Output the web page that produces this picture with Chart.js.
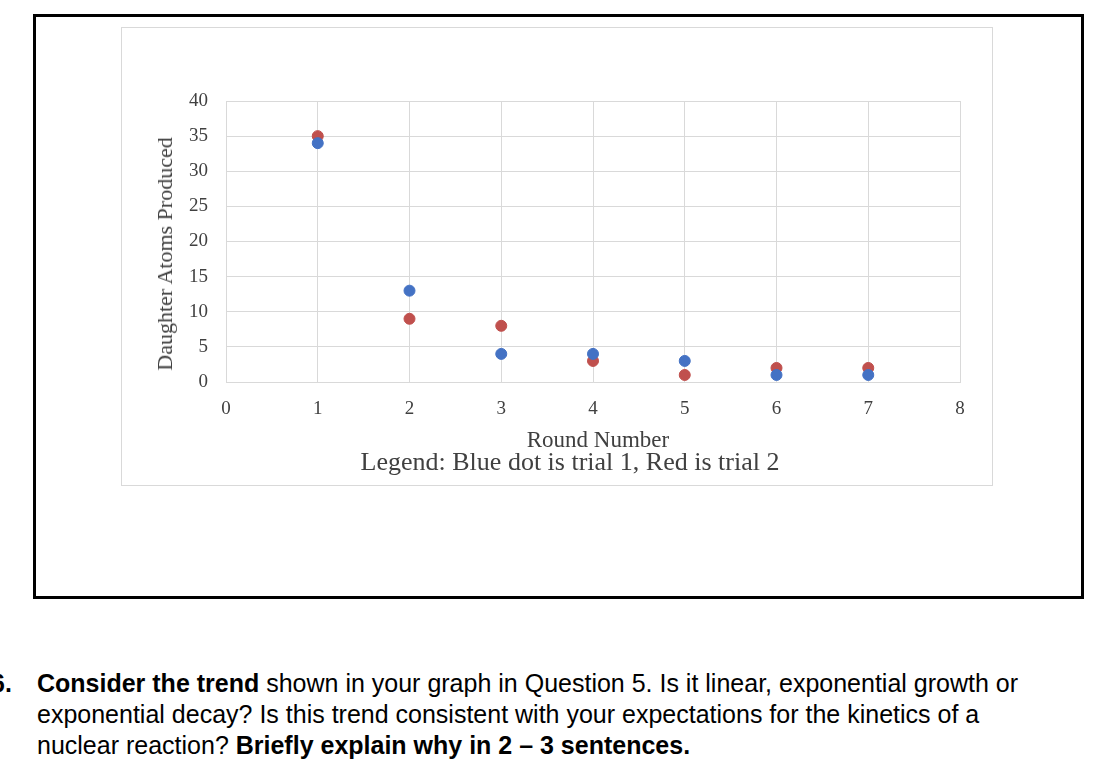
<!DOCTYPE html>
<html>
<head>
<meta charset="utf-8">
<script src="https://cdn.jsdelivr.net/npm/chart.js@4.4.0/dist/chart.umd.min.js"></script>
<style>
  body { margin: 0; width: 1096px; height: 762px; background: #fff; position: relative; overflow: hidden; }
  #frame { position: absolute; left: 33px; top: 14px; width: 1045px; height: 579px; border: 3px solid #000; }
  #chartBox { position: absolute; left: 121px; top: 27px; width: 870px; height: 457px; border: 1px solid #d9d9d9; }
  canvas { position: absolute; left: 0; top: 0; }
  .serif { font-family: "Liberation Serif", "DejaVu Serif", serif; color: #404040; position: absolute; white-space: nowrap; line-height: 1; }
  #ytitle { left: 43px; top: 226px; font-size: 22px; transform: translate(-50%, -50%) rotate(-90deg); }
  #xtitle { left: 476px; top: 400px; font-size: 23px; transform: translateX(-50%); }
  #legend { left: 448px; top: 421px; font-size: 26px; transform: translateX(-50%); }
  #question { position: absolute; left: 0; top: 668px; font-family: "Liberation Sans", Arial, sans-serif; font-size: 25px; line-height: 31px; color: #000; }
  #question .num { position: absolute; left: -9px; }
  #question .txt { position: absolute; left: 37px; width: 1070px; white-space: nowrap; }
</style>
</head>
<body>
<div id="frame"></div>
<div id="chartBox">
  <canvas id="c" width="870" height="457"></canvas>
  <div class="serif" id="ytitle">Daughter Atoms Produced</div>
  <div class="serif" id="xtitle">Round Number</div>
  <div class="serif" id="legend">Legend: Blue dot is trial 1, Red is trial 2</div>
</div>
<div id="question">
  <span class="num"><b>6.</b></span>
  <div class="txt"><b>Consider the trend</b> shown in your graph in Question 5. Is it linear, exponential growth or<br>exponential decay? Is this trend consistent with your expectations for the kinetics of a<br>nuclear reaction? <b>Briefly explain why in 2 – 3 sentences.</b></div>
</div>
<script>
const rounds = [1, 2, 3, 4, 5, 6, 7];
const trial1 = [34, 13, 4, 4, 3, 1, 1];
const trial2 = [35, 9, 8, 3, 1, 2, 2];

const tickFont = { family: '"Liberation Serif", serif', size: 19 };

new Chart(document.getElementById('c'), {
  type: 'scatter',
  data: {
    datasets: [
      { label: 'Trial 1', data: rounds.map((r, i) => ({ x: r, y: trial1[i] })), backgroundColor: '#4472C4', borderColor: '#4472C4', pointRadius: 5.5 },
      { label: 'Trial 2', data: rounds.map((r, i) => ({ x: r, y: trial2[i] })), backgroundColor: '#C0504D', borderColor: '#C0504D', pointRadius: 5.5 }
    ]
  },
  options: {
    responsive: false,
    animation: false,
    layout: { padding: { left: 0, right: 32, top: 73, bottom: 0 } },
    plugins: { legend: { display: false }, tooltip: { enabled: false } },
    scales: {
      x: {
        min: 0, max: 8,
        ticks: { stepSize: 1, color: '#404040', font: tickFont, padding: 16 },
        grid: { color: '#d9d9d9', drawTicks: false },
        border: { color: '#d9d9d9' },
        afterFit: s => { s.height = 103; }
      },
      y: {
        min: 0, max: 40,
        ticks: { stepSize: 5, color: '#404040', font: tickFont, padding: 18 },
        grid: { color: '#d9d9d9', drawTicks: false },
        border: { color: '#d9d9d9' },
        afterFit: s => { s.width = 104; }
      }
    }
  }
});
</script>
</body>
</html>
